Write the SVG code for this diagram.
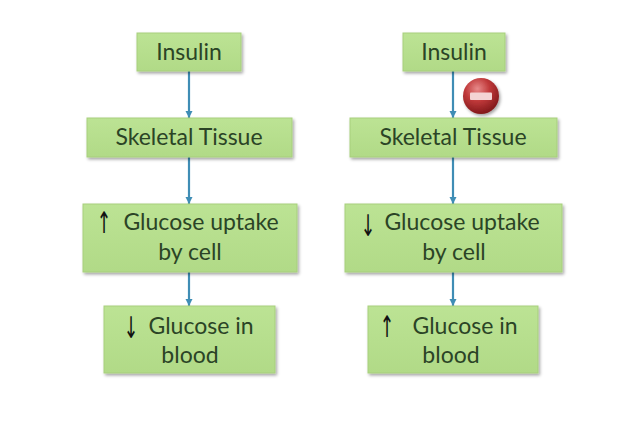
<svg xmlns="http://www.w3.org/2000/svg" width="638" height="426" viewBox="0 0 638 426">
<defs>
<linearGradient id="g" x1="0" y1="0" x2="0" y2="1">
<stop offset="0" stop-color="#bce394"/>
<stop offset="1" stop-color="#b1da87"/>
</linearGradient>
<radialGradient id="red" cx="0.4" cy="0.3" r="0.75">
<stop offset="0" stop-color="#e88a8a"/>
<stop offset="0.45" stop-color="#c0393a"/>
<stop offset="1" stop-color="#7a1517"/>
</radialGradient>
<filter id="sh" x="-10%" y="-10%" width="130%" height="140%">
<feDropShadow dx="1.5" dy="2" stdDeviation="1.5" flood-color="#000" flood-opacity="0.35"/>
</filter>
<marker id="ah" markerWidth="8" markerHeight="8" refX="7" refY="4" orient="auto" markerUnits="userSpaceOnUse">
<path d="M0,0.5 L7,4 L0,7.5 Z" fill="#3f8db5"/>
</marker>
</defs>
<style>
.box{fill:url(#g);stroke:#a7cf7d;stroke-width:1;filter:url(#sh)}
.t{font-family:Lato,"Open Sans","Liberation Sans",sans-serif;font-size:23px;fill:#2b4426;text-anchor:middle}
.a{font-family:"DejaVu Sans",sans-serif;font-size:27px;fill:#111;text-anchor:middle}
.c{stroke:#3f8db5;stroke-width:2.2;fill:none;marker-end:url(#ah)}
</style>
<rect width="638" height="426" fill="#fff"/>
<g id="connectors">
<line class="c" x1="189" y1="71" x2="189" y2="118"/>
<line class="c" x1="189" y1="157" x2="189" y2="204"/>
<line class="c" x1="189" y1="272" x2="189" y2="306"/>
<line class="c" x1="453" y1="71" x2="453" y2="118"/>
<line class="c" x1="453" y1="157" x2="453" y2="204"/>
<line class="c" x1="453" y1="272" x2="453" y2="306"/>
</g>
<g id="insulin-l"><rect class="box" x="137" y="33" width="104" height="38"/><text class="t" x="189" y="60">Insulin</text></g>
<g id="skeletal-l"><rect class="box" x="87" y="118" width="205" height="39"/><text class="t" x="189" y="145">Skeletal Tissue</text></g>
<g id="uptake-l"><rect class="box" x="83" y="204" width="214" height="68"/><text class="a" transform="translate(104,233) scale(0.65,1.1)">↑</text><text class="t" x="201" y="230">Glucose uptake</text><text class="t" x="190" y="260">by cell</text></g>
<g id="blood-l"><rect class="box" x="104" y="306" width="171" height="67"/><text class="a" transform="translate(131,338) scale(0.65,1.1)">↓</text><text class="t" x="201" y="334">Glucose in</text><text class="t" x="190" y="363">blood</text></g>
<g id="insulin-r"><rect class="box" x="403" y="33" width="102" height="38"/><text class="t" x="454" y="60">Insulin</text></g>
<g id="skeletal-r"><rect class="box" x="350" y="118" width="207" height="39"/><text class="t" x="453" y="145">Skeletal Tissue</text></g>
<g id="uptake-r"><rect class="box" x="345" y="204" width="217" height="68"/><text class="a" transform="translate(368,236) scale(0.65,1.1)">↓</text><text class="t" x="462" y="230">Glucose uptake</text><text class="t" x="454" y="260">by cell</text></g>
<g id="blood-r"><rect class="box" x="368" y="306" width="170" height="67"/><text class="a" transform="translate(387,337) scale(0.65,1.1)">↑</text><text class="t" x="465" y="334">Glucose in</text><text class="t" x="451" y="363">blood</text></g>
<g id="inhibit">
<circle cx="481" cy="96" r="18" fill="url(#red)" filter="url(#sh)"/>
<rect x="470" y="92.5" width="22" height="7.5" rx="1" fill="#f4d4d4"/>
</g>
</svg>
